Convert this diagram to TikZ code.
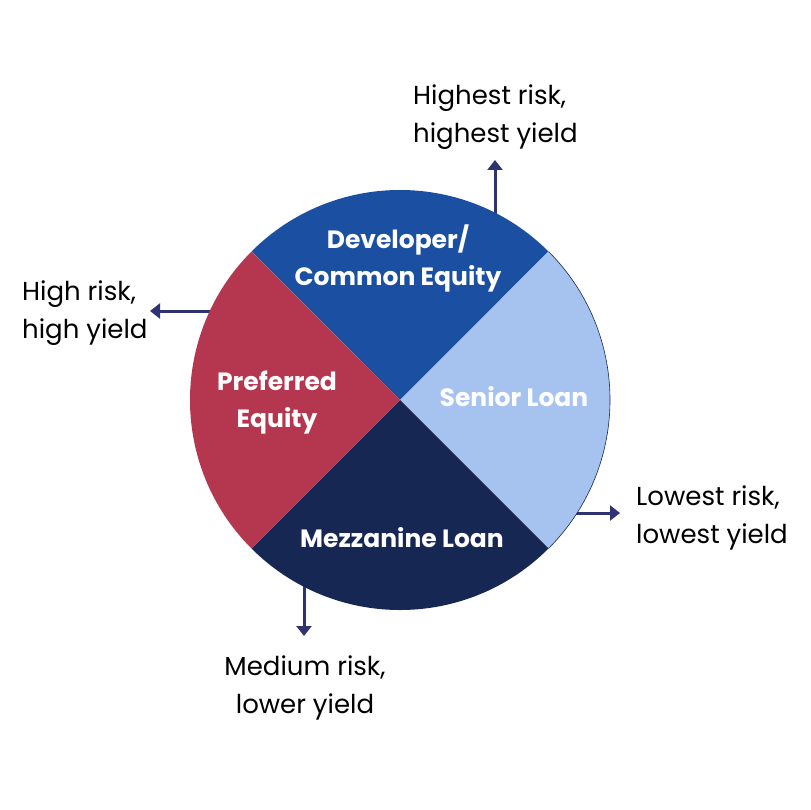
\documentclass[tikz,border=0pt]{standalone}
\usepackage{fontspec}
\setmainfont{Poppins}
\usetikzlibrary{arrows.meta}
\definecolor{cTop}{HTML}{1A4FA1}
\definecolor{cRight}{HTML}{A6C3F0}
\definecolor{cBottom}{HTML}{172754}
\definecolor{cLeft}{HTML}{B5364F}
\definecolor{cArrow}{HTML}{2F3370}
\tikzset{
  inlabel/.style={text=white, font=\fontsize{25}{37}\selectfont\bfseries, align=center, inner sep=0pt},
  outlabel/.style={text=black, font=\fontsize{26}{37.5}\selectfont, inner sep=0pt},
  conn/.style={draw=cArrow, line width=3pt, -{Triangle[length=10pt,width=15pt]}}
}
\begin{document}
\begin{tikzpicture}[x=1pt,y=-1pt]
\useasboundingbox (0,0) rectangle (810,810);
\coordinate (c) at (400,400);
\coordinate (pTL) at (251.5,251.5);
\coordinate (pTR) at (548.5,251.5);
\coordinate (pBR) at (548.5,548.5);
\coordinate (pBL) at (251.5,548.5);
% connectors start at circle edge
\coordinate (eTop) at (495,214);
\coordinate (tTop) at (495,160);
\coordinate (eLeft) at (211,311);
\coordinate (tLeft) at (150,311);
\coordinate (eRight) at (576,513);
\coordinate (tRight) at (620,513);
\coordinate (eBottom) at (304,586);
\coordinate (tBottom) at (304,636);
\draw[conn] (eTop) -- (tTop);
\draw[conn] (eLeft) -- (tLeft);
\draw[conn] (eRight) -- (tRight);
\draw[conn] (eBottom) -- (tBottom);
% pie
\fill[cTop] (c) -- (pTL) arc[start angle=225, end angle=315, radius=210] -- cycle;
\fill[cRight] (c) -- (pTR) arc[start angle=-45, end angle=45, radius=210] -- cycle;
\draw[cBottom, line width=0.6pt] (pTR) arc[start angle=-45, end angle=45, radius=210];
\fill[cBottom] (c) -- (pBR) arc[start angle=45, end angle=135, radius=210] -- cycle;
\fill[cLeft] (c) -- (pBL) arc[start angle=135, end angle=225, radius=210] -- cycle;
% inner labels
\node[inlabel] (dev) at (398,258) {Developer/\\Common Equity};
\node[inlabel] (sen) at (514,397) {Senior Loan};
\node[inlabel] (mez) at (402,538) {Mezzanine Loan};
\node[inlabel] (pref) at (277,403) {Preferred\\Equity};
% outer labels
\node[outlabel, align=left, anchor=west] (lTop) at (413,117) {Highest risk,\\highest yield};
\node[outlabel, align=left, anchor=west] (lLeft) at (22,313) {High risk,\\high yield};
\node[outlabel, align=left, anchor=west] (lRight) at (636,518) {Lowest risk,\\lowest yield};
\node[outlabel, align=center] (lBottom) at (305,688) {Medium risk,\\lower yield};
\end{tikzpicture}
\end{document}
